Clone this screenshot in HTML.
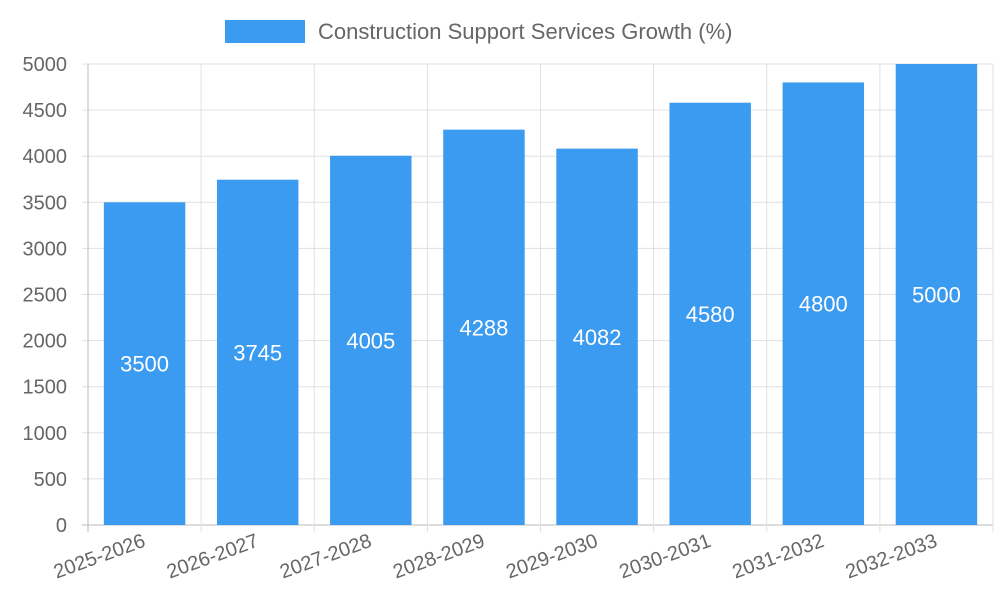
<!DOCTYPE html>
<html><head><meta charset="utf-8"><style>
body{margin:0;background:#fff;}
svg{font-family:"Liberation Sans",sans-serif;}
</style></head><body>
<svg id="chart" width="1000" height="600"></svg>
<script>
const categories=["2025-2026","2026-2027","2027-2028","2028-2029","2029-2030","2030-2031","2031-2032","2032-2033"];
const values=[3500,3745,4005,4288,4082,4580,4800,5000];
const yTicks=[0,500,1000,1500,2000,2500,3000,3500,4000,4500,5000];
const seriesName="Construction Support Services Growth (%)";
const NS="http://www.w3.org/2000/svg";
const svg=document.getElementById('chart');
const L=88,R=993,T=64,B=525,yMax=5000;
const bw=(R-L)/categories.length;
const y=v=>B-(v/yMax)*(B-T);
const x=i=>L+i*bw;
function mk(tag,attrs,parent){const e=document.createElementNS(NS,tag);for(const k in attrs)e.setAttribute(k,attrs[k]);(parent||svg).appendChild(e);return e;}
// grid
yTicks.forEach(t=>{
  const g=mk('line',{x1:L-6,x2:R,y1:y(t),y2:y(t),stroke:t===0?'#bbb':'#e0e0e0','stroke-width':1});
  
  
  const tx=mk('text',{x:67,y:y(t)+7,'text-anchor':'end','font-size':20,fill:'#666'});
  tx.textContent=t;
  
  
});
for(let i=0;i<=categories.length;i++){
  const g=mk('line',{x1:x(i),x2:x(i),y1:T,y2:B+7,stroke:i===0?'#bbb':'#e0e0e0','stroke-width':1});
  
  
}
categories.forEach((c,i)=>{
  const bx=x(i)+bw*0.14,w=bw*0.72;
  const r=mk('rect',{x:bx,y:y(values[i]),width:w,height:B-y(values[i]),fill:'#3a9bf0'});
  
  
  const vt=mk('text',{x:x(i)+bw/2,y:(y(values[i])+B)/2+8,'text-anchor':'middle','font-size':22,fill:'#fff'});
  vt.textContent=values[i];
  
  
  const cx=x(i)+bw/2+2,cy=546;
  const lt=mk('text',{x:cx,y:cy,'text-anchor':'end','font-size':20,fill:'#666',transform:`rotate(-20 ${cx} ${cy})`});
  lt.textContent=c;
  
  
});
const lg=mk('rect',{x:225,y:20,width:80,height:23,fill:'#3a9bf0'});


const lt=mk('text',{x:318,y:39,'font-size':22,fill:'#666'});
lt.textContent=seriesName;


</script>
</body></html>
